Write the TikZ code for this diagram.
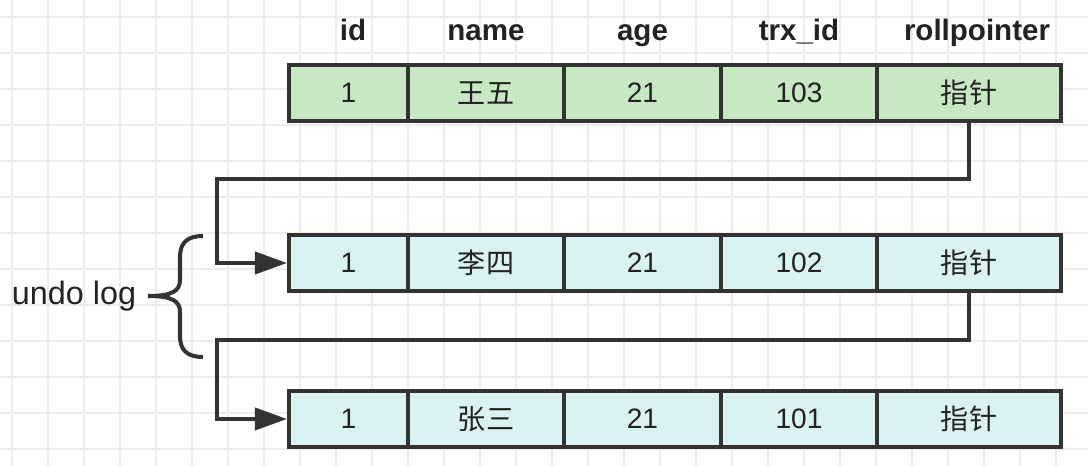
\documentclass[tikz,border=0pt]{standalone}
\usepackage{fontspec}
\setmainfont{Liberation Sans}
\newfontfamily\zh{Noto Sans CJK SC}
\usetikzlibrary{arrows.meta}

\definecolor{rowgreen}{RGB}{200,232,196}
\definecolor{rowcyan}{RGB}{218,242,242}
\definecolor{linedark}{RGB}{51,51,51}
\definecolor{textdark}{RGB}{34,34,34}

\tikzset{
  gridline/.style={draw=gray!15, line width=1pt},
  cell/.style={draw=linedark, line width=2.85pt, inner sep=0pt, minimum height=1.4cm,
    text=textdark, font=\fontsize{20}{24}\selectfont},
  head/.style={anchor=base, inner sep=0pt, text=textdark, font=\fontsize{21}{25}\selectfont\bfseries},
  ptr/.style={draw=linedark, line width=2.85pt, -{Triangle[length=22.8pt, width=15.6pt]}},
}

\begin{document}
\begin{tikzpicture}[x=0.025cm, y=-0.025cm]
    \useasboundingbox (0,0) rectangle (1088,466);
    \fill[white] (0,0) rectangle (1088,466);
    \foreach \gx in {12,48,...,1088}
      \draw[gridline] (\gx,0) -- (\gx,466);
    \foreach \gy in {17,53,...,466}
      \draw[gridline] (0,\gy) -- (1088,\gy);

    % column heads
    \foreach \c/\cx/\txt in {1/353/id, 2/486/name, 3/642.5/age, 4/799/trx\_id, 5/977/rollpointer}
      \node[head] (h\c) at (\cx,41) {\txt};

    % current row
    \foreach \c/\cx/\w/\txt in {1/348.5/119/1, 2/486/156/{\zh 王五}, 3/642.5/157/21, 4/799/156/103, 5/969/184/{\zh 指针}}
      \node[cell, fill=rowgreen, minimum width=\w*0.025cm] (a\c) at (\cx,93) {\txt};

    % undo log rows
    \foreach \c/\cx/\w/\txt in {1/348.5/119/1, 2/486/156/{\zh 李四}, 3/642.5/157/21, 4/799/156/102, 5/969/184/{\zh 指针}}
      \node[cell, fill=rowcyan, minimum width=\w*0.025cm] (b\c) at (\cx,263) {\txt};
    \foreach \c/\cx/\w/\txt in {1/348.5/119/1, 2/486/156/{\zh 张三}, 3/642.5/157/21, 4/799/156/101, 5/969/184/{\zh 指针}}
      \node[cell, fill=rowcyan, minimum width=\w*0.025cm] (c\c) at (\cx,419) {\txt};

    \coordinate (turnb) at (217,179);
    \coordinate (turnc) at (217,340);
    \draw[ptr] (a5.south) |- (turnb) |- (b1.west);
    \draw[ptr] (b5.south) |- (turnc) |- (c1.west);

    % brace
    \node[text=textdark, font=\fontsize{23}{27}\selectfont] (undo) at (74,296) {undo log};
    \draw[draw=linedark, line width=2.85pt]
      (203,236) .. controls (187,236) and (180,243) .. (180,257) -- (180,280)
      .. controls (180,291) and (172,296) .. (148,296)
      .. controls (172,296) and (180,301) .. (180,312) -- (180,336)
      .. controls (180,350) and (187,357) .. (203,357);
  \end{tikzpicture}
\end{document}
